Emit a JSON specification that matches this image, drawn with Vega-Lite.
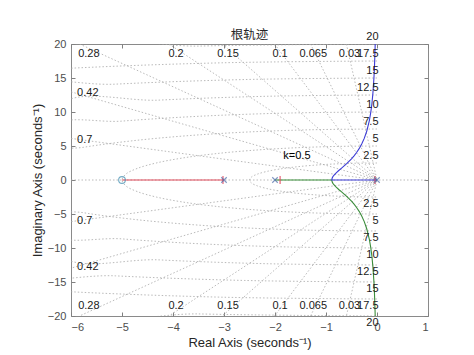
{
 "$schema": "https://vega.github.io/schema/vega-lite/v6.json",
 "width": 357, "height": 272,
 "autosize": {"type": "none"},
 "padding": {"left": 71, "top": 44, "right": 46, "bottom": 39},
 "background": "white",
 "config": {"view": {"stroke": "#8a8a8a", "strokeWidth": 1}, "font": "Liberation Sans"},
 "title": {"text": "根轨迹", "font": "Noto Sans CJK SC", "fontSize": 12.5, "fontWeight": "normal", "color": "#262626", "offset": -11},
 "data": {"values": [
  {"t":"z","g":"a","o":0,"x":-0.6,"y":20},{"t":"z","g":"a","o":1,"x":0,"y":0},{"t":"z","g":"a","o":2,"x":-0.6,"y":-20},
  {"t":"z","g":"b","o":0,"x":-1.303,"y":20},{"t":"z","g":"b","o":1,"x":0,"y":0},{"t":"z","g":"b","o":2,"x":-1.303,"y":-20},
  {"t":"z","g":"c","o":0,"x":-2.01,"y":20},{"t":"z","g":"c","o":1,"x":0,"y":0},{"t":"z","g":"c","o":2,"x":-2.01,"y":-20},
  {"t":"z","g":"d","o":0,"x":-3.034,"y":20},{"t":"z","g":"d","o":1,"x":0,"y":0},{"t":"z","g":"d","o":2,"x":-3.034,"y":-20},
  {"t":"z","g":"e","o":0,"x":-4.082,"y":20},{"t":"z","g":"e","o":1,"x":0,"y":0},{"t":"z","g":"e","o":2,"x":-4.082,"y":-20},
  {"t":"z","g":"f","o":0,"x":-5.833,"y":20},{"t":"z","g":"f","o":1,"x":0,"y":0},{"t":"z","g":"f","o":2,"x":-5.833,"y":-20},
  {"t":"z","g":"g","o":0,"x":-6,"y":12.965},{"t":"z","g":"g","o":1,"x":0,"y":0},{"t":"z","g":"g","o":2,"x":-6,"y":-12.965},
  {"t":"z","g":"h","o":0,"x":-6,"y":6.121},{"t":"z","g":"h","o":1,"x":0,"y":0},{"t":"z","g":"h","o":2,"x":-6,"y":-6.121},
  {"t":"z","g":"r","o":0,"x":-6,"y":0},{"t":"z","g":"r","o":1,"x":1,"y":0},

  {"t":"c","g":"c1","o":0,"x":0,"y":2.5},{"t":"c","g":"c1","o":1,"x":-0.434,"y":2.462},{"t":"c","g":"c1","o":2,"x":-0.855,"y":2.349},{"t":"c","g":"c1","o":3,"x":-1.25,"y":2.165},{"t":"c","g":"c1","o":4,"x":-1.607,"y":1.915},{"t":"c","g":"c1","o":5,"x":-1.915,"y":1.607},{"t":"c","g":"c1","o":6,"x":-2.165,"y":1.25},{"t":"c","g":"c1","o":7,"x":-2.349,"y":0.855},{"t":"c","g":"c1","o":8,"x":-2.462,"y":0.434},{"t":"c","g":"c1","o":9,"x":-2.5,"y":0},{"t":"c","g":"c1","o":10,"x":-2.462,"y":-0.434},{"t":"c","g":"c1","o":11,"x":-2.349,"y":-0.855},{"t":"c","g":"c1","o":12,"x":-2.165,"y":-1.25},{"t":"c","g":"c1","o":13,"x":-1.915,"y":-1.607},{"t":"c","g":"c1","o":14,"x":-1.607,"y":-1.915},{"t":"c","g":"c1","o":15,"x":-1.25,"y":-2.165},{"t":"c","g":"c1","o":16,"x":-0.855,"y":-2.349},{"t":"c","g":"c1","o":17,"x":-0.434,"y":-2.462},{"t":"c","g":"c1","o":18,"x":0,"y":-2.5},

  {"t":"c","g":"c2","o":0,"x":0,"y":5},{"t":"c","g":"c2","o":1,"x":-0.868,"y":4.924},{"t":"c","g":"c2","o":2,"x":-1.71,"y":4.698},{"t":"c","g":"c2","o":3,"x":-2.5,"y":4.33},{"t":"c","g":"c2","o":4,"x":-3.214,"y":3.83},{"t":"c","g":"c2","o":5,"x":-3.83,"y":3.214},{"t":"c","g":"c2","o":6,"x":-4.33,"y":2.5},{"t":"c","g":"c2","o":7,"x":-4.698,"y":1.71},{"t":"c","g":"c2","o":8,"x":-4.924,"y":0.868},{"t":"c","g":"c2","o":9,"x":-5,"y":0},{"t":"c","g":"c2","o":10,"x":-4.924,"y":-0.868},{"t":"c","g":"c2","o":11,"x":-4.698,"y":-1.71},{"t":"c","g":"c2","o":12,"x":-4.33,"y":-2.5},{"t":"c","g":"c2","o":13,"x":-3.83,"y":-3.214},{"t":"c","g":"c2","o":14,"x":-3.214,"y":-3.83},{"t":"c","g":"c2","o":15,"x":-2.5,"y":-4.33},{"t":"c","g":"c2","o":16,"x":-1.71,"y":-4.698},{"t":"c","g":"c2","o":17,"x":-0.868,"y":-4.924},{"t":"c","g":"c2","o":18,"x":0,"y":-5},

  {"t":"c","g":"c3","o":0,"x":0,"y":7.5},{"t":"c","g":"c3","o":1,"x":-1.302,"y":7.386},{"t":"c","g":"c3","o":2,"x":-2.565,"y":7.048},{"t":"c","g":"c3","o":3,"x":-3.75,"y":6.495},{"t":"c","g":"c3","o":4,"x":-4.821,"y":5.745},{"t":"c","g":"c3","o":5,"x":-5.745,"y":4.821},{"t":"c","g":"c3","o":6,"x":-6.495,"y":3.75},{"t":"c","g":"c3","o":7,"x":-6.495,"y":-3.75},{"t":"c","g":"c3","o":8,"x":-5.745,"y":-4.821},{"t":"c","g":"c3","o":9,"x":-4.821,"y":-5.745},{"t":"c","g":"c3","o":10,"x":-3.75,"y":-6.495},{"t":"c","g":"c3","o":11,"x":-2.565,"y":-7.048},{"t":"c","g":"c3","o":12,"x":-1.302,"y":-7.386},{"t":"c","g":"c3","o":13,"x":0,"y":-7.5},

  {"t":"c","g":"c4","o":0,"x":0,"y":10},{"t":"c","g":"c4","o":1,"x":-1.737,"y":9.848},{"t":"c","g":"c4","o":2,"x":-3.42,"y":9.397},{"t":"c","g":"c4","o":3,"x":-5,"y":8.66},{"t":"c","g":"c4","o":4,"x":-6.428,"y":7.66},{"t":"c","g":"c4","o":5,"x":-6.428,"y":-7.66},{"t":"c","g":"c4","o":6,"x":-5,"y":-8.66},{"t":"c","g":"c4","o":7,"x":-3.42,"y":-9.397},{"t":"c","g":"c4","o":8,"x":-1.737,"y":-9.848},{"t":"c","g":"c4","o":9,"x":0,"y":-10},

  {"t":"c","g":"c5","o":0,"x":0,"y":12.5},{"t":"c","g":"c5","o":1,"x":-2.171,"y":12.31},{"t":"c","g":"c5","o":2,"x":-4.275,"y":11.746},{"t":"c","g":"c5","o":3,"x":-6.25,"y":10.825},{"t":"c","g":"c5","o":4,"x":-6.25,"y":-10.825},{"t":"c","g":"c5","o":5,"x":-4.275,"y":-11.746},{"t":"c","g":"c5","o":6,"x":-2.171,"y":-12.31},{"t":"c","g":"c5","o":7,"x":0,"y":-12.5},

  {"t":"c","g":"c6","o":0,"x":0,"y":15},{"t":"c","g":"c6","o":1,"x":-2.605,"y":14.772},{"t":"c","g":"c6","o":2,"x":-5.13,"y":14.095},{"t":"c","g":"c6","o":3,"x":-7.5,"y":12.99},{"t":"c","g":"c6","o":4,"x":-7.5,"y":-12.99},{"t":"c","g":"c6","o":5,"x":-5.13,"y":-14.095},{"t":"c","g":"c6","o":6,"x":-2.605,"y":-14.772},{"t":"c","g":"c6","o":7,"x":0,"y":-15},

  {"t":"c","g":"c7","o":0,"x":0,"y":17.5},{"t":"c","g":"c7","o":1,"x":-3.039,"y":17.234},{"t":"c","g":"c7","o":2,"x":-5.985,"y":16.445},{"t":"c","g":"c7","o":3,"x":-8.75,"y":15.155},{"t":"c","g":"c7","o":4,"x":-8.75,"y":-15.155},{"t":"c","g":"c7","o":5,"x":-5.985,"y":-16.445},{"t":"c","g":"c7","o":6,"x":-3.039,"y":-17.234},{"t":"c","g":"c7","o":7,"x":0,"y":-17.5},

  {"t":"c","g":"c8","o":0,"x":0,"y":20},{"t":"c","g":"c8","o":1,"x":-3.473,"y":19.696},{"t":"c","g":"c8","o":2,"x":-6.84,"y":18.794},{"t":"c","g":"c8","o":3,"x":-6.84,"y":-18.794},{"t":"c","g":"c8","o":4,"x":-3.473,"y":-19.696},{"t":"c","g":"c8","o":5,"x":0,"y":-20},

  {"t":"b","g":"r","o":0,"x":-3,"y":0},{"t":"b","g":"r","o":1,"x":-5,"y":0},

  {"t":"b","g":"gr","o":0,"x":-2,"y":0},{"t":"b","g":"gr","o":1,"x":-0.886,"y":0},{"t":"b","g":"gr","o":2,"x":-0.88,"y":-0.266},{"t":"b","g":"gr","o":3,"x":-0.87,"y":-0.429},{"t":"b","g":"gr","o":4,"x":-0.85,"y":-0.652},{"t":"b","g":"gr","o":5,"x":-0.8,"y":-1.054},{"t":"b","g":"gr","o":6,"x":-0.75,"y":-1.392},{"t":"b","g":"gr","o":7,"x":-0.7,"y":-1.714},{"t":"b","g":"gr","o":8,"x":-0.65,"y":-2.038},{"t":"b","g":"gr","o":9,"x":-0.6,"y":-2.375},{"t":"b","g":"gr","o":10,"x":-0.55,"y":-2.733},{"t":"b","g":"gr","o":11,"x":-0.5,"y":-3.122},{"t":"b","g":"gr","o":12,"x":-0.45,"y":-3.554},{"t":"b","g":"gr","o":13,"x":-0.4,"y":-4.042},{"t":"b","g":"gr","o":14,"x":-0.35,"y":-4.608},{"t":"b","g":"gr","o":15,"x":-0.3,"y":-5.283},{"t":"b","g":"gr","o":16,"x":-0.25,"y":-6.119},{"t":"b","g":"gr","o":17,"x":-0.2,"y":-7.208},{"t":"b","g":"gr","o":18,"x":-0.15,"y":-8.745},{"t":"b","g":"gr","o":19,"x":-0.12,"y":-10.06},{"t":"b","g":"gr","o":20,"x":-0.1,"y":-11.22},{"t":"b","g":"gr","o":21,"x":-0.08,"y":-12.78},{"t":"b","g":"gr","o":22,"x":-0.06,"y":-15.02},{"t":"b","g":"gr","o":23,"x":-0.05,"y":-16.6},{"t":"b","g":"gr","o":24,"x":-0.04,"y":-18.72},{"t":"b","g":"gr","o":25,"x":-0.035,"y":-20.1},{"t":"b","g":"gr","o":26,"x":-0.03,"y":-21.8},

  {"t":"b","g":"bl","o":0,"x":0,"y":0},{"t":"b","g":"bl","o":1,"x":-0.886,"y":0},{"t":"b","g":"bl","o":2,"x":-0.88,"y":0.266},{"t":"b","g":"bl","o":3,"x":-0.87,"y":0.429},{"t":"b","g":"bl","o":4,"x":-0.85,"y":0.652},{"t":"b","g":"bl","o":5,"x":-0.8,"y":1.054},{"t":"b","g":"bl","o":6,"x":-0.75,"y":1.392},{"t":"b","g":"bl","o":7,"x":-0.7,"y":1.714},{"t":"b","g":"bl","o":8,"x":-0.65,"y":2.038},{"t":"b","g":"bl","o":9,"x":-0.6,"y":2.375},{"t":"b","g":"bl","o":10,"x":-0.55,"y":2.733},{"t":"b","g":"bl","o":11,"x":-0.5,"y":3.122},{"t":"b","g":"bl","o":12,"x":-0.45,"y":3.554},{"t":"b","g":"bl","o":13,"x":-0.4,"y":4.042},{"t":"b","g":"bl","o":14,"x":-0.35,"y":4.608},{"t":"b","g":"bl","o":15,"x":-0.3,"y":5.283},{"t":"b","g":"bl","o":16,"x":-0.25,"y":6.119},{"t":"b","g":"bl","o":17,"x":-0.2,"y":7.208},{"t":"b","g":"bl","o":18,"x":-0.15,"y":8.745},{"t":"b","g":"bl","o":19,"x":-0.12,"y":10.06},{"t":"b","g":"bl","o":20,"x":-0.1,"y":11.22},{"t":"b","g":"bl","o":21,"x":-0.08,"y":12.78},{"t":"b","g":"bl","o":22,"x":-0.06,"y":15.02},{"t":"b","g":"bl","o":23,"x":-0.05,"y":16.6},{"t":"b","g":"bl","o":24,"x":-0.04,"y":18.72},{"t":"b","g":"bl","o":25,"x":-0.035,"y":20.1},{"t":"b","g":"bl","o":26,"x":-0.03,"y":21.8},

  {"t":"m","x":-3.02,"y":0},{"t":"m","x":-1.9,"y":0},{"t":"m","x":-0.04,"y":0},
  {"t":"p","x":0,"y":0},{"t":"p","x":-2,"y":0},{"t":"p","x":-3,"y":0},
  {"t":"zr","x":-5,"y":0},

  {"t":"zl","x":-5.86,"y":18.6,"label":"0.28"},{"t":"zl","x":-4.09,"y":18.6,"label":"0.2"},{"t":"zl","x":-3.13,"y":18.6,"label":"0.15"},{"t":"zl","x":-2.05,"y":18.6,"label":"0.1"},{"t":"zl","x":-1.52,"y":18.6,"label":"0.065"},{"t":"zl","x":-0.75,"y":18.6,"label":"0.03"},
  {"t":"zl","x":-5.88,"y":12.8,"label":"0.42"},{"t":"zl","x":-5.88,"y":5.9,"label":"0.7"},
  {"t":"zl","x":-5.88,"y":-6.0,"label":"0.7"},{"t":"zl","x":-5.88,"y":-12.8,"label":"0.42"},
  {"t":"zl","x":-5.86,"y":-18.5,"label":"0.28"},{"t":"zl","x":-4.09,"y":-18.5,"label":"0.2"},{"t":"zl","x":-3.13,"y":-18.5,"label":"0.15"},{"t":"zl","x":-2.05,"y":-18.5,"label":"0.1"},{"t":"zl","x":-1.52,"y":-18.5,"label":"0.065"},{"t":"zl","x":-0.75,"y":-18.5,"label":"0.03"},

  {"t":"wl","x":0.03,"y":3.5,"label":"2.5"},{"t":"wl","x":0.03,"y":6.1,"label":"5"},{"t":"wl","x":0.03,"y":8.6,"label":"7.5"},{"t":"wl","x":0.03,"y":11.0,"label":"10"},{"t":"wl","x":0.03,"y":13.5,"label":"12.5"},{"t":"wl","x":0.03,"y":16.1,"label":"15"},{"t":"wl","x":0.03,"y":18.6,"label":"17.5"},{"t":"wl","x":0.03,"y":21.1,"label":"20"},
  {"t":"wl","x":0.03,"y":-3.5,"label":"2.5"},{"t":"wl","x":0.03,"y":-6.1,"label":"5"},{"t":"wl","x":0.03,"y":-8.6,"label":"7.5"},{"t":"wl","x":0.03,"y":-11.0,"label":"10"},{"t":"wl","x":0.03,"y":-13.5,"label":"12.5"},{"t":"wl","x":0.03,"y":-16.1,"label":"15"},{"t":"wl","x":0.03,"y":-18.5,"label":"17.5"},{"t":"wl","x":0.03,"y":-21.0,"label":"20"},

  {"t":"k","x":-1.57,"y":3.5,"label":"k=0.5"}
 ]},
 "encoding": {
  "x": {"field": "x", "type": "quantitative", "scale": {"domain": [-6, 1], "nice": false, "zero": false}, "axis": null},
  "y": {"field": "y", "type": "quantitative", "scale": {"domain": [-20, 20], "nice": false, "zero": false}, "axis": null}
 },
 "layer": [
  {
   "transform": [{"filter": "datum.t === 'z'"}],
   "mark": {"type": "line", "clip": true, "stroke": "#a8a8a8", "strokeWidth": 0.8, "strokeDash": [1.5, 2]},
   "encoding": {
    "detail": {"field": "g"}, "order": {"field": "o", "type": "quantitative"},
    "x": {"field": "x", "type": "quantitative", "scale": {"domain": [-6, 1], "nice": false, "zero": false},
      "axis": {"orient": "bottom", "values": [-6, -5, -4, -3, -2, -1, 0, 1], "title": "Real Axis (seconds⁻¹)", "domain": false, "grid": false, "tickSize": -4, "tickColor": "#808080", "labelPadding": 9, "labelFontSize": 11, "labelColor": "#4d4d4d", "labelFont": "Liberation Sans", "titleFont": "Liberation Sans", "titleFontSize": 13, "titleFontWeight": "normal", "titleColor": "#262626", "titlePadding": 4}},
    "y": {"field": "y", "type": "quantitative", "scale": {"domain": [-20, 20], "nice": false, "zero": false},
      "axis": {"orient": "left", "values": [-20, -15, -10, -5, 0, 5, 10, 15, 20], "title": "Imaginary Axis (seconds⁻¹)", "domain": false, "grid": false, "tickSize": -4, "tickColor": "#808080", "labelPadding": 9, "labelFontSize": 11, "labelColor": "#4d4d4d", "labelFont": "Liberation Sans", "titleFont": "Liberation Sans", "titleFontSize": 13, "titleFontWeight": "normal", "titleColor": "#262626", "titlePadding": 3}}
   }
  },
  {
   "transform": [{"filter": "datum.t === 'z'"}],
   "mark": {"type": "point", "opacity": 0},
   "encoding": {
    "x": {"field": "x", "type": "quantitative", "scale": {"domain": [-6, 1], "nice": false, "zero": false},
      "axis": {"orient": "top", "values": [-6, -5, -4, -3, -2, -1, 0, 1], "title": null, "labels": false, "domain": false, "grid": false, "tickSize": -4, "tickColor": "#808080"}},
    "y": {"field": "y", "type": "quantitative", "scale": {"domain": [-20, 20], "nice": false, "zero": false},
      "axis": {"orient": "right", "values": [-20, -15, -10, -5, 0, 5, 10, 15, 20], "title": null, "labels": false, "domain": false, "grid": false, "tickSize": -4, "tickColor": "#808080"}}
   }
  },
  {
   "transform": [{"filter": "datum.t === 'c'"}],
   "mark": {"type": "line", "clip": true, "interpolate": "catmull-rom", "stroke": "#a8a8a8", "strokeWidth": 0.8, "strokeDash": [1.5, 2]},
   "encoding": {"detail": {"field": "g"}, "order": {"field": "o", "type": "quantitative"}}
  },
  {
   "transform": [{"filter": "datum.t === 'b'"}],
   "mark": {"type": "line", "clip": true, "strokeWidth": 1.1},
   "encoding": {
    "detail": {"field": "g"}, "order": {"field": "o", "type": "quantitative"},
    "color": {"field": "g", "type": "nominal", "scale": {"domain": ["r", "gr", "bl"], "range": ["#e04a5a", "#3b8d3b", "#3c3cd6"]}, "legend": null}
   }
  },
  {
   "transform": [{"filter": "datum.t === 'm'"}],
   "mark": {"type": "point", "shape": "M0,-1L0,1", "size": 64, "filled": false, "stroke": "#e0304a", "strokeWidth": 1.3}
  },
  {
   "transform": [{"filter": "datum.t === 'p'"}],
   "mark": {"type": "point", "shape": "M-1,-1L1,1M1,-1L-1,1", "size": 30, "filled": false, "stroke": "#4a6aa8", "strokeWidth": 1.1}
  },
  {
   "transform": [{"filter": "datum.t === 'zr'"}],
   "mark": {"type": "point", "shape": "circle", "size": 45, "filled": false, "stroke": "#3a8aae", "strokeWidth": 1.1}
  },
  {
   "transform": [{"filter": "datum.t === 'zl'"}],
   "mark": {"type": "text", "align": "left", "baseline": "middle", "fontSize": 11, "font": "Liberation Sans", "color": "#1a1a1a"},
   "encoding": {"text": {"field": "label"}}
  },
  {
   "transform": [{"filter": "datum.t === 'wl'"}],
   "mark": {"type": "text", "align": "right", "baseline": "middle", "fontSize": 11, "font": "Liberation Sans", "color": "#1a1a1a"},
   "encoding": {"text": {"field": "label"}}
  },
  {
   "transform": [{"filter": "datum.t === 'k'"}],
   "mark": {"type": "text", "align": "center", "baseline": "middle", "fontSize": 11, "font": "Liberation Sans", "color": "#000000"},
   "encoding": {"text": {"field": "label"}}
  }
 ],
 "resolve": {"axis": {"x": "independent", "y": "independent"}}
}
